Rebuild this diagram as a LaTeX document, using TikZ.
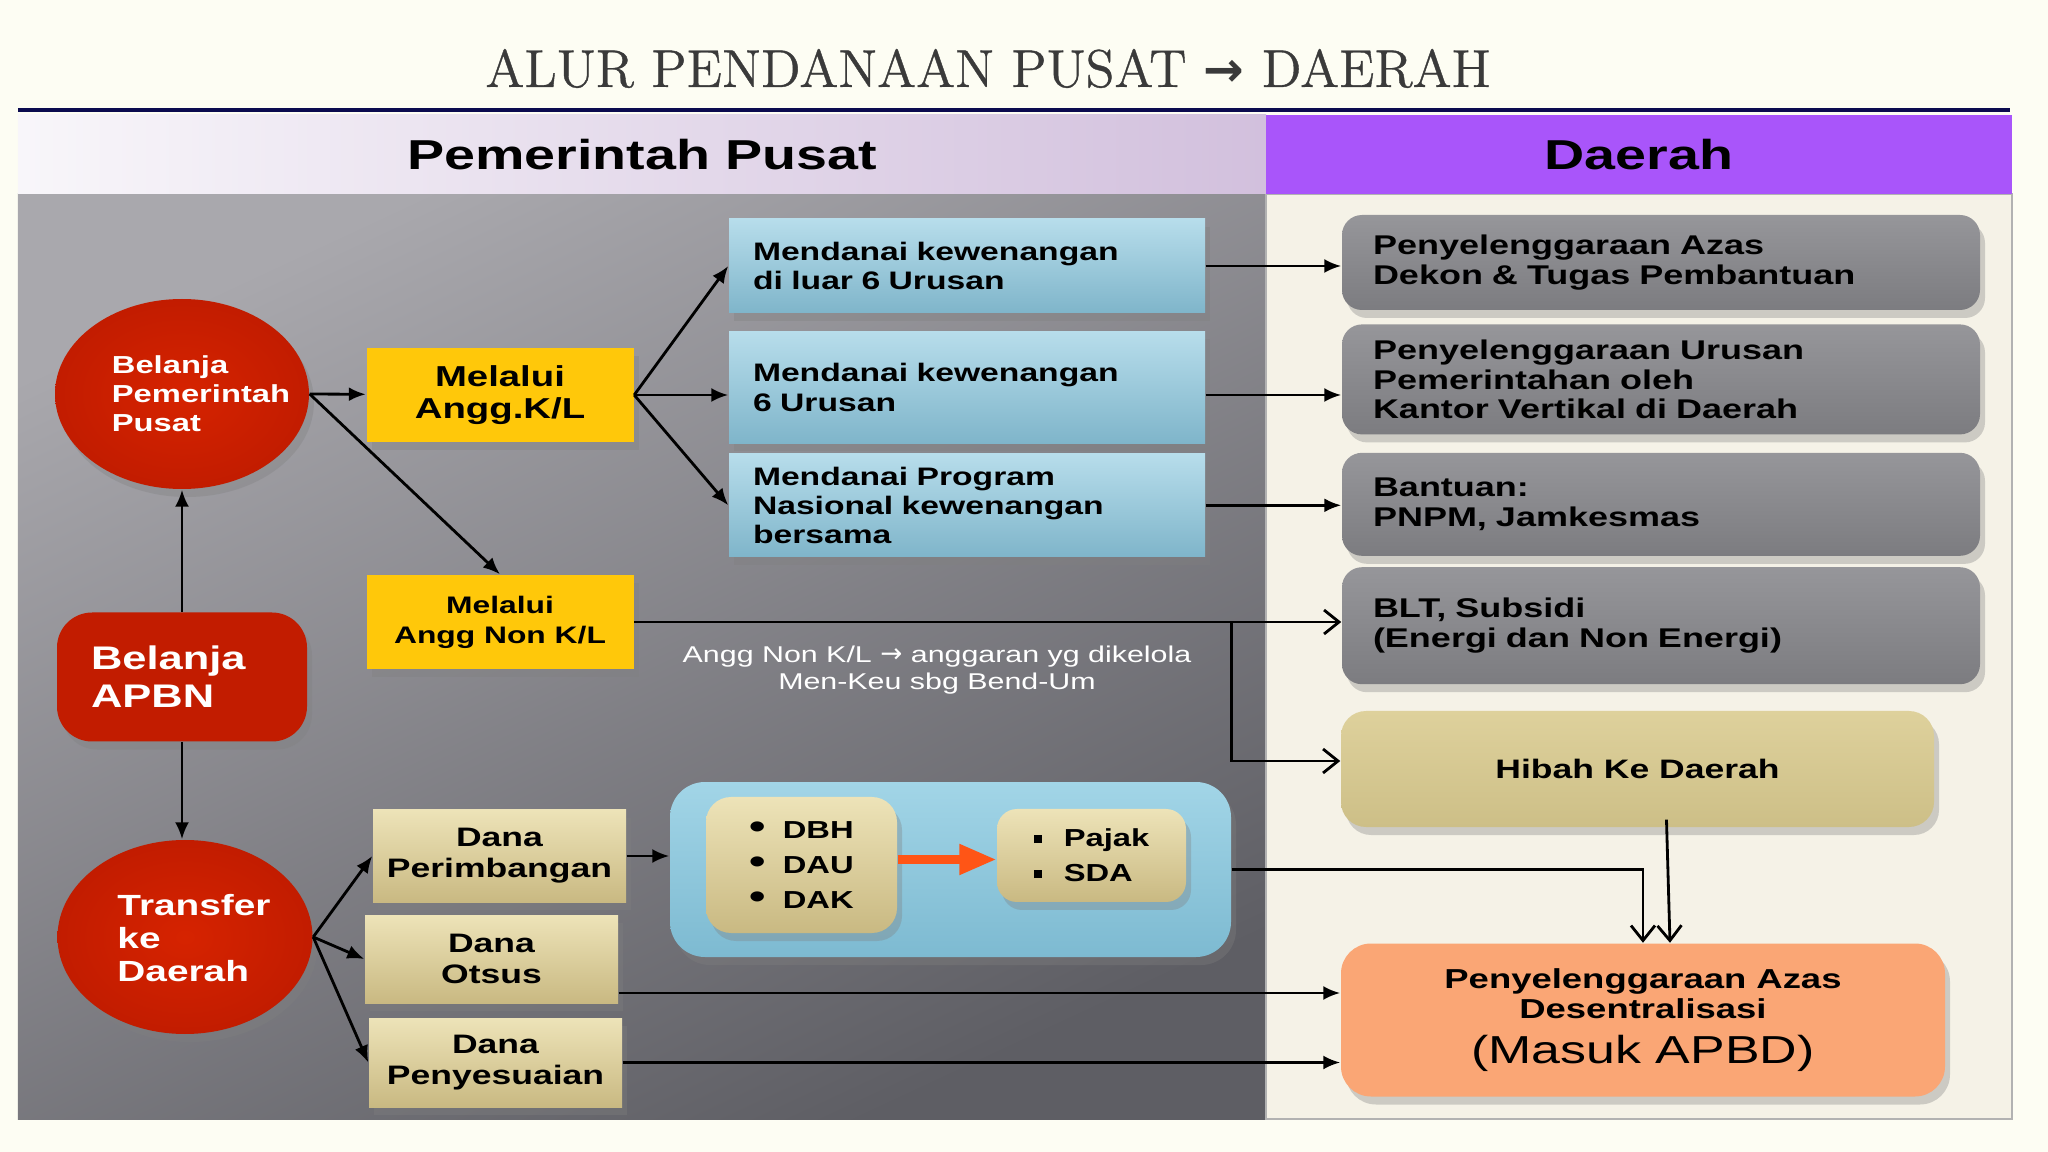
\documentclass[tikz,border=0pt]{standalone}
\usepackage{fontspec}
\newfontfamily\wide{Liberation Sans}[FakeStretch=1.33]
\newfontfamily\djv{DejaVu Sans}
\newfontfamily\titlefont{lmroman12-regular}[Extension=.otf, FakeBold=0.7]
\usetikzlibrary{positioning,shapes.geometric,arrows.meta,shadows}
\newcommand{\fsz}[2]{\fontsize{#1}{#2}\selectfont}

\definecolor{bgcream}{HTML}{FDFDF3}
\definecolor{navy}{HTML}{0B0B4F}
\definecolor{titlegray}{HTML}{3A3A3A}
\definecolor{hdrL}{HTML}{F8F6FA}
\definecolor{hdrR}{HTML}{D2C0DD}
\definecolor{violet}{HTML}{A955FA}
\definecolor{panelL}{HTML}{A9A8AD}
\definecolor{panelD}{HTML}{5E5E64}
\definecolor{creamp}{HTML}{F5F2E7}
\definecolor{redL}{HTML}{D62300}
\definecolor{redD}{HTML}{C21C00}
\definecolor{goldc}{HTML}{FFC80A}
\definecolor{blueL}{HTML}{B7DDEB}
\definecolor{blueD}{HTML}{7FB5CA}
\definecolor{grayL}{HTML}{96969A}
\definecolor{grayD}{HTML}{7C7C80}
\definecolor{khakiL}{HTML}{EDE3B8}
\definecolor{khakiD}{HTML}{C9B982}
\definecolor{contL}{HTML}{A2D5E7}
\definecolor{contD}{HTML}{7DBAD1}
\definecolor{hibahL}{HTML}{DED19C}
\definecolor{hibahD}{HTML}{CDBF87}
\definecolor{apbdc}{HTML}{FAA675}
\definecolor{orangec}{HTML}{FF5516}

\begin{document}
\begin{tikzpicture}[
    >={Latex[length=1.7mm,width=1.4mm]},
    dshadow/.style={drop shadow={opacity=0.35, shadow xshift=0.05cm, shadow yshift=-0.08cm}},
    redell/.style={ellipse, inner color=redL, outer color=redD, minimum width=2.54cm, minimum height=1.9cm, inner sep=0pt, dshadow},
    redtxt/.style={text=white, align=left, inner sep=0pt},
    redbox/.style={rectangle, rounded corners=0.35cm, fill=redD, text width=1.82cm, inner xsep=0.34cm, minimum height=1.29cm, text=white, align=left, dshadow, font=\wide\bfseries\fsz{9.3}{10.8}},
    klbox/.style={rectangle, fill=goldc, minimum width=2.67cm, minimum height=0.94cm, inner ysep=0.05cm, align=center, dshadow},
    mkbox/.style={rectangle, top color=blueL, bottom color=blueD, text width=4.28cm, inner xsep=0.24cm, inner ysep=0.05cm, align=left, dshadow, font=\wide\bfseries\fsz{7.2}{8.3}},
    dkbox/.style={rectangle, rounded corners=0.2cm, top color=grayL, bottom color=grayD, text width=5.76cm, inner xsep=0.31cm, inner ysep=0.05cm, align=left, dshadow, font=\wide\bfseries\fsz{7.7}{8.4}},
    danabox/.style={rectangle, top color=khakiL, bottom color=khakiD, minimum width=2.53cm, inner ysep=0.05cm, align=center, dshadow, font=\wide\bfseries\fsz{7.6}{8.9}},
    tanbox/.style={rectangle, rounded corners=0.25cm, top color=khakiL, bottom color=khakiD, align=left, dshadow, font=\wide\bfseries\fsz{7}{10}},
    barb/.style={-{Straight Barb[length=1.5mm,width=2.4mm]}}]

\useasboundingbox (0,0) rectangle (20.48,-11.52);
\fill[bgcream] (0,0) rectangle (20.48,-11.52);

% Title and headers
\node[font=\titlefont\fsz{15.1}{18}, text=titlegray] (title) at (9.88,-0.685) {ALUR PENDANAAN PUSAT {\djv\bfseries\fsz{13.8}{18}→} DAERAH};
\draw[navy, line width=1.1pt] (0.18,-1.10) -- (20.10,-1.10);
\fill[panelD!80!black, opacity=0.3] (0.18,-1.94) rectangle (20.12,-2.02);
\shade[top color=panelL, bottom color=panelD, shading angle=25] (0.18,-1.94) rectangle (12.66,-11.19);
\filldraw[fill=creamp, draw=gray!60] (12.66,-1.94) rectangle (20.12,-11.19);
\node[rectangle, left color=hdrL, right color=hdrR, minimum width=12.48cm, minimum height=0.79cm, font=\wide\bfseries\fsz{11.9}{14}] (hpusat) at (6.42,-1.545) {Pemerintah Pusat};
\node[rectangle, fill=violet, minimum width=7.46cm, minimum height=0.79cm, font=\wide\bfseries\fsz{11.9}{14}] (hdaerah) at (16.39,-1.545) {Daerah};

% Belanja APBN
\node[redell] (bpp) at (1.82,-3.94) {};
\node[redtxt, font=\wide\bfseries\fsz{7}{8.25}] (bpptxt) at ([xshift=0.19cm]bpp.center) {Belanja\\Pemerintah\\Pusat};
\node[redbox] (apbn) at (1.82,-6.77) {Belanja\\APBN};
\node[redell, minimum width=2.55cm, minimum height=1.94cm] (transfer) at (1.85,-9.37) {};
\node[redtxt, font=\wide\bfseries\fsz{8.3}{9.4}] (transfertxt) at ([xshift=0.09cm,yshift=-0.01cm]transfer.center) {Transfer\\ke\\Daerah};

% Melalui K/L
\node[klbox, font=\wide\bfseries\fsz{8.2}{9.1}] (kl) at (5.00,-3.95) {Melalui\\Angg.K/L};
\node[klbox, font=\wide\bfseries\fsz{6.8}{8.5}] (nonkl) at (5.00,-6.22) {Melalui\\Angg Non K/L};

\node[mkbox, minimum height=0.94cm] (mk1) at (9.67,-2.66) {Mendanai kewenangan\\di luar 6 Urusan};
\node[mkbox, minimum height=1.12cm, below=0.17cm of mk1] (mk2) {Mendanai kewenangan\\6 Urusan};
\node[mkbox, minimum height=1.03cm, below=0.09cm of mk2] (mk3) {Mendanai Program\\Nasional kewenangan\\bersama};

\node[font=\wide\fsz{6.5}{7.5}, text=white, align=center] (note) at (9.37,-6.70) {Angg Non K/L {\djv\fsz{7.5}{7.5}→} anggaran yg dikelola\\Men-Keu sbg Bend-Um};

% Daerah
\node[dkbox, minimum height=0.95cm] (dekon) at (16.61,-2.625) {Penyelenggaraan Azas\\Dekon \& Tugas Pembantuan};
\node[dkbox, minimum height=1.10cm, below=0.13cm of dekon] (urusan) {Penyelenggaraan Urusan\\Pemerintahan oleh\\Kantor Vertikal di Daerah};
\node[dkbox, minimum height=1.03cm, below=0.17cm of urusan] (bantuan) {Bantuan:\\PNPM, Jamkesmas};
\node[dkbox, minimum height=1.17cm, below=0.10cm of bantuan] (blt) {BLT, Subsidi\\(Energi dan Non Energi)};
\node[rectangle, rounded corners=0.25cm, top color=hibahL, bottom color=hibahD, minimum width=5.93cm, minimum height=1.16cm, dshadow, font=\wide\bfseries\fsz{7.6}{9}] (hibah) at (16.375,-7.69) {Hibah Ke Daerah};
\node[rectangle, rounded corners=0.3cm, fill=apbdc, minimum width=6.04cm, minimum height=1.53cm, align=center, dshadow, font=\wide\bfseries\fsz{7.8}{8.6}] (apbd) at (16.43,-10.20) {Penyelenggaraan Azas\\Desentralisasi\\[0.14cm]{\mdseries\fsz{11.1}{12}(Masuk APBD)}};

% Transfer ke Daerah
\node[danabox, minimum height=0.92cm] (perimb) at (4.995,-8.56) {Dana\\Perimbangan};
\node[danabox, minimum height=0.88cm] (otsus) at (4.915,-9.59) {Dana\\Otsus};
\node[danabox, minimum height=0.89cm] (peny) at (4.955,-10.625) {Dana\\Penyesuaian};

\node[rectangle, rounded corners=0.35cm, top color=contL, bottom color=contD, minimum width=5.61cm, minimum height=1.75cm, dshadow] (container) at (9.505,-8.695) {};
\node[tanbox, minimum width=1.91cm, minimum height=1.36cm] (dbh) at (8.015,-8.65) {{\fsz{10}{10}\textbullet}\hspace{0.7em}DBH\\{\fsz{10}{10}\textbullet}\hspace{0.7em}DAU\\{\fsz{10}{10}\textbullet}\hspace{0.7em}DAK};
\node[tanbox, rounded corners=0.2cm, minimum width=1.89cm, minimum height=0.93cm] (pajak) at (10.915,-8.555) {\rule[0.15em]{0.32em}{0.32em}\hspace{0.9em}Pajak\\\rule[0.15em]{0.32em}{0.32em}\hspace{0.9em}SDA};

% Connections
\draw[->, thick] (apbn) -- (bpp);
\draw[->, thick] (apbn) -- (apbn |- transfer.north);
\draw[->, thick] (bpp.east) -- (kl);
\draw[->, thick] (bpp.east) -- (nonkl.north);
\draw[->, thick] (kl.east) -- (mk1.west);
\draw[->, thick] (kl.east) -- (kl.east -| mk2.west);
\draw[->, thick] (kl.east) -- (mk3.west);
\draw[->, thick] (mk1.east) -- (mk1.east -| dekon.west);
\draw[->, thick] (kl.east -| mk2.east) -- (kl.east -| urusan.west);
\draw[->, thick] (mk3.east) -- (mk3.east -| bantuan.west);
\draw[barb, thick] (nonkl.east) -- (nonkl.east -| blt.west);
\coordinate (split) at (container.east |- nonkl.east);
\draw[barb, thick] (split) |- ([yshift=0.08cm]hibah.west);
\draw[->, thick] (transfer.east) -- (perimb.west);
\draw[->, thick] (transfer.east) -- (otsus.west);
\draw[->, thick] (transfer.east) -- (peny.west);
\draw[->, thick] (perimb.east) -- (perimb.east -| container.west);
\draw[orangec, line width=2.3pt, -{Triangle[length=3.7mm,width=2.9mm]}] ([yshift=-0.04cm]dbh.east |- pajak.west) -- ([yshift=-0.04cm]pajak.west);
\draw[barb, thick] (container.east) -| (apbd.north);
\draw[barb, thick] ([xshift=0.29cm,yshift=0.08cm]hibah.south) -- ([xshift=0.27cm]apbd.north);
\draw[->, thick] ([yshift=-0.34cm]otsus.east) -- ([yshift=-0.34cm]otsus.east -| apbd.west);
\draw[->, thick] (peny.east) -- (peny.east -| apbd.west);

\end{tikzpicture}
\end{document}
